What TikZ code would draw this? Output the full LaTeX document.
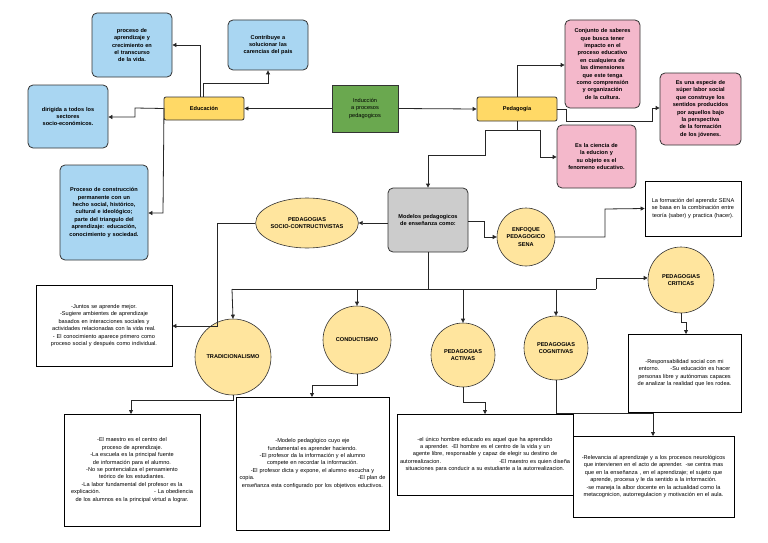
\documentclass[tikz,border=0pt]{standalone}
\usepackage{fontspec}
\setmainfont{Liberation Sans}
\usetikzlibrary{arrows.meta,shapes.geometric}
\definecolor{cblue}{HTML}{A9D6F2}
\definecolor{cyel}{HTML}{FFD966}
\definecolor{cgreen}{HTML}{6AA84F}
\definecolor{cpink}{HTML}{F4B8CB}
\definecolor{cgray}{HTML}{CCCCCC}
\definecolor{ccirc}{HTML}{FFE59E}
\begin{document}
\hyphenpenalty=10000 \exhyphenpenalty=10000
\begin{tikzpicture}[x=1pt,y=-1pt,
 txt/.style={font=\fontsize{5.6}{7.4}\selectfont\bfseries,align=center},
 rtxt/.style={font=\fontsize{5.6}{7.4}\selectfont,align=center},
 rb/.style={draw=black!80,line width=0.8pt,rounded corners=5pt,inner sep=2pt,txt},
 blue/.style={rb,fill=cblue},
 pink/.style={rb,fill=cpink},
 yb/.style={draw=black!80,line width=0.8pt,rounded corners=2pt,fill=cyel,txt},
 wb/.style={draw=black,line width=0.8pt,fill=white,rtxt,inner sep=2pt},
 circ/.style={circle,draw=black!80,line width=0.6pt,fill=ccirc,txt,inner sep=0pt},
 ar/.style={draw=black!85,line width=0.8pt,-{Triangle[length=4pt,width=4pt]}},
 ln/.style={draw=black!85,line width=0.8pt}]
\useasboundingbox (0,0) rectangle (768,543);
\fill[white] (0,0) rectangle (768,543);
% boxes
\node[blue,minimum width=80,minimum height=64,text width=58] (b1) at (132,45) {proceso de aprendizaje y crecimiento en el transcurso de la vida.};
\node[blue,minimum width=80,minimum height=50,text width=58] (b2) at (268,45) {Contribuye a solucionar las carencias del pais};
\node[blue,minimum width=80,minimum height=63,text width=70] (b3) at (68,116.5) {dirigida a todos los\\sectores\\socio-económicos.};
\node[blue,minimum width=88,minimum height=95,text width=70] (b4) at (104,212.5) {Proceso de construcción permanente con un hecho social, histórico, cultural e ideológico; parte del triangulo del aprendizaje: educación, conocimiento y sociedad.};
\node[yb,minimum width=80,minimum height=23] (edu) at (204,108.5) {Educación};
\node[draw=black!80,line width=0.8pt,fill=cgreen,align=center,font=\fontsize{5.6}{7.4}\selectfont,minimum width=66,minimum height=47,text width=46] (ind) at (365,108.5) {Inducción a procesos pedagogicos};
\node[yb,minimum width=80,minimum height=24] (ped) at (517,109) {Pedagogía};
\node[pink,minimum width=75,minimum height=88,text width=64,inner sep=1pt] (p1) at (602.5,64) {Conjunto de saberes que busca tener impacto en el proceso educativo en cualquiera de las dimensiones que este tenga como comprensión y organización de la cultura.};
\node[pink,minimum width=81,minimum height=72,text width=64,inner sep=1pt] (p2) at (700.5,109) {Es una especie de súper labor social que construye los sentidos producidos por aquellos bajo la perspectiva de la formación de los jóvenes.};
\node[pink,minimum width=79,minimum height=63,text width=58] (p3) at (596.5,156.5) {Es la ciencia de la educion y su objeto es el fenomeno educativo.};
\node[rb,fill=cgray,minimum width=80,minimum height=64,text width=60] (mod) at (428,220) {Modelos pedagogicos de enseñanza como:};
\node[circ,minimum size=58,text width=46] (enf) at (526,237) {ENFOQUE PEDAGOGICO SENA};
\node[wb,minimum width=96,minimum height=55,text width=86] (sena) at (693,208.5) {La formación del aprendiz SENA se basa en la combinación entre teoría (saber) y practica (hacer).};
\node[ellipse,draw=black!80,line width=0.6pt,fill=ccirc,txt,minimum width=94,minimum height=50,inner sep=0pt] (soc) at (307,223) {PEDAGOGIAS\\SOCIO-CONTRUCTIVISTAS};
\node[wb,minimum width=136,minimum height=81,text width=130] (jun) at (104,325.5) {-Juntos se aprende mejor.\\-Sugiere ambientes de aprendizaje basados en interacciones sociales y actividades relacionadas con la vida real.\\- El conocimiento aparece primero como proceso social y después como individual.};
\node[circ,minimum size=76] (tra) at (233,357) {TRADICIONALISMO};
\node[circ,minimum size=68] (con) at (357,340) {CONDUCTISMO};
\node[circ,minimum size=64,text width=50] (act) at (463,355) {PEDAGOGIAS ACTIVAS};
\node[circ,minimum size=64,text width=50] (cog) at (556,348) {PEDAGOGIAS COGNITIVAS};
\node[circ,minimum size=66,text width=50] (cri) at (681,280) {PEDAGOGIAS CRITICAS};
\node[wb,minimum width=113,minimum height=78,text width=106] (res) at (684.5,373) {-Responsabilidad social con mi entorno.\hspace{2em}-Su educación es hacer personas libre y autónomas capaces de analizar la realidad que les rodea.};
\node[wb,minimum width=136,minimum height=112,text width=122] (tbox) at (132,470) {-El maestro es el centro del proceso de aprendizaje.\\-La escuela es la principal fuente de información para el alumno.\\-No se pontencializa el pensamiento teórico de los estudiantes.\\-La labor fundamental del profesor es la explicación.\hfill- La obediencia de los alumnos es la principal virtud a lograr.};
\node[wb,minimum width=153,minimum height=133,text width=146] (cbox) at (312.5,463.5) {-Modelo pedagógico cuyo eje fundamental es aprender haciendo.\\-El profesor da la información y el alumno compete en recordar la información.\\-El profesor dicta y expone, el alumno escucha y copia.\hfill-El plan de enseñanza esta configurado por los objetivos eductivos.};
\node[wb,minimum width=176,minimum height=81,text width=170] (abox) at (485,454.5) {-el único hombre educado es aquel que ha aprendido a aprender. -El hombre es el centro de la vida y un agente libre, responsable y capaz de elegir su destino de autorrealizacion.\hfill-El maestro es quien diseña situaciones para conducir a su estudiante a la autorrealizacion.};
\node[wb,minimum width=161,minimum height=81,text width=154] (gbox) at (653.5,476.5) {-Relevancia al aprendizaje y a los procesos neurológicos que intervienen en el acto de aprender. -se centra mas que en la enseñanza , en el aprendizaje; el sujeto que aprende, procesa y le da sentido a la información.\\-se maneja la albor docente en la actualidad como la metacognicion, autorregulacion y motivación en el aula.};
% connectors
\draw[ar] (edu.north -| 200,0) -- (200,45) -- (b1.east);
\draw[ar] (ind.west) -- (edu.east);
\draw[ar] (ind.east) -- (ped.west);
\draw[ar] (edu.north -| 203,0) -- (203,83) -- (268,83) -- (b2.south);
\draw[ar] (edu.west) -- (135,108) -- (135,117) -- (b3.east |- 0,117);
\draw[ar] (164,108) -- (163,213) -- (b4.east |- 0,213);
\draw[ar] (ped.north) -- (517,65) -- (p1.west |- 0,65);
\draw[ar] (ped.east) -- (566,109) -- (566,121) -- (652,121) -- (652,108) -- (p2.west |- 0,108);
\draw[ar] (ped.south) -- (517,130) -- (540,130) -- (540,157) -- (p3.west |- 0,157);
\draw[ar] (517,130) -- (485,130) -- (485,155) -- (428,155) -- (mod.north);
\draw[ar] (mod.east |- 0,221) -- (484,221) -- (484,237) -- (enf.west);
\draw[ar] (enf.east) -- (605,237) -- (605,209) -- (sena.west);
\draw[ar] (mod.west |- 0,223) -- (soc.east);
\draw[ar] (soc.west) -- (217,223) -- (217,326) -- (jun.east |- 0,326);
\draw[ln] (mod.south) -- (428,289);
\draw[ln] (232,289) -- (596,289);
\draw[ar] (596,289) -- (596,278) -- (cri.west |- 0,278);
\draw[ar] (232,289) -- (tra.north);
\draw[ar] (357,289) -- (con.north);
\draw[ar] (463,289) -- (act.north);
\draw[ar] (556,289) -- (cog.north);
\draw[ar] (tra.south) -- (233,400) -- (131,400) -- (131,414);
\draw[ar] (con.south) -- (357,385) -- (312,385) -- (312,397);
\draw[ar] (act.south) -- (463,402) -- (485,402) -- (485,414);
\draw[ar] (cog.south) -- (556,413) -- (653,413) -- (653,436);
\draw[ar] (cri.south) -- (681,322) -- (686,322) -- (686,334);
\end{tikzpicture}
\end{document}
